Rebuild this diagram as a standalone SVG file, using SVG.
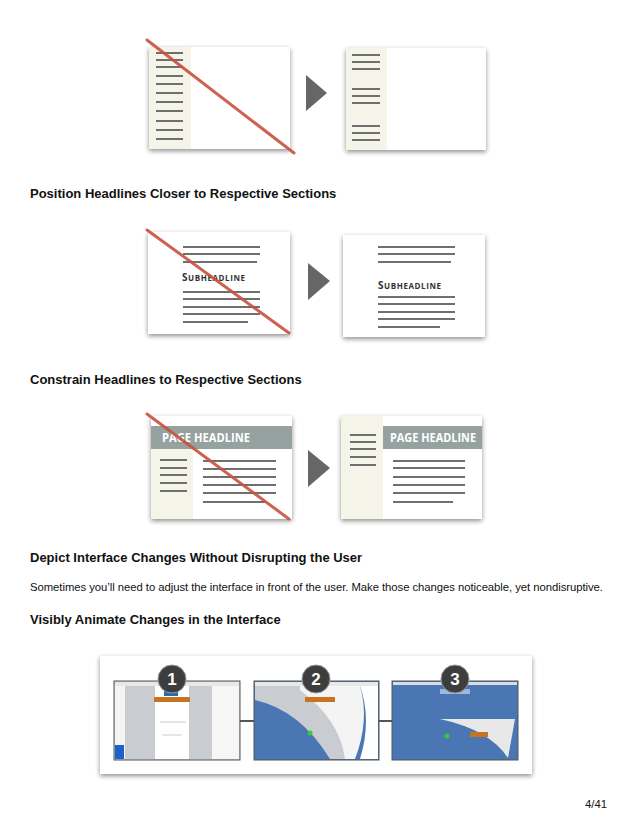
<svg xmlns="http://www.w3.org/2000/svg" width="638" height="826" viewBox="0 0 638 826">
<defs>
<filter id="sh" x="-10%" y="-10%" width="120%" height="125%"><feGaussianBlur in="SourceAlpha" stdDeviation="2.5"/><feOffset dy="1.5"/><feComponentTransfer><feFuncA type="linear" slope="0.45"/></feComponentTransfer><feMerge><feMergeNode/><feMergeNode in="SourceGraphic"/></feMerge></filter>
</defs>
<style>
.card{fill:#fff;filter:url(#sh)}
.side{fill:#f5f4e8}
.ln{stroke:#6f6f6f;stroke-width:2.2}
.red{stroke:#c9513f;stroke-width:3;stroke-linecap:round;opacity:0.9}
.arr{fill:#666}
.h{font-family:"Liberation Sans",Arial,sans-serif;font-weight:bold;font-size:13px;fill:#111}
.b{font-family:"Liberation Sans",Arial,sans-serif;font-size:11.3px;fill:#111}
.sub{font-family:"Open Sans","DejaVu Sans",sans-serif;font-weight:bold;font-size:10px;fill:#333}
.ph{font-family:"Open Sans","DejaVu Sans",sans-serif;font-weight:bold;font-size:11.5px;fill:#fff}
.band{fill:#95a29f}
.num{font-family:"Liberation Sans",Arial,sans-serif;font-weight:bold;font-size:17px;fill:#fff;text-anchor:middle}
.circ{fill:#3d3d3d;stroke:#999;stroke-width:1}
</style>
<rect width="638" height="826" fill="#fff"/>

<g id="fig1">
<rect class="card" x="149" y="47" width="141" height="102"/>
<rect class="side" x="149" y="47" width="42" height="102"/>
<g class="ln"><path d="M156 53H183M156 60H183M156 67H183M156 76H183M156 84H183M156 93H183M156 102H183M156 111H183M156 121H183M156 130H183M156 139H183"/></g>
<line class="red" x1="147" y1="40" x2="294" y2="153"/>
<polygon class="arr" points="306,75 327,93 306,111"/>
<rect class="card" x="346" y="48" width="140" height="102"/>
<rect class="side" x="346" y="48" width="41" height="102"/>
<g class="ln"><path d="M352 55H380M352 62H380M352 69H380M352 89H380M352 96H380M352 103H380M352 126H380M352 133H380M352 140H380"/></g>
</g>

<text class="h" x="30" y="198">Position Headlines Closer to Respective Sections</text>

<g id="fig2">
<rect class="card" x="148" y="232" width="142" height="102"/>
<g class="ln"><path d="M183 247H260M183 254H260M183 262H257M183 292H260M183 299H260M183 307H260M183 314H260M183 322H248"/></g>
<text class="sub" x="182" y="281" textLength="63">S<tspan font-size="8">UBHEADLINE</tspan></text>
<line class="red" x1="147" y1="230" x2="289" y2="333"/>
<polygon class="arr" points="308,263 330,281 308,300"/>
<rect class="card" x="343" y="235" width="142" height="102"/>
<g class="ln"><path d="M378 247H455M378 254H455M378 262H451M378 297H455M378 304H455M378 312H455M378 319H455M378 327H440"/></g>
<text class="sub" x="378" y="289" textLength="63">S<tspan font-size="8">UBHEADLINE</tspan></text>
</g>

<text class="h" x="30" y="384">Constrain Headlines to Respective Sections</text>

<g id="fig3">
<rect class="card" x="151" y="416" width="141" height="103"/>
<rect class="side" x="151" y="449" width="42" height="70"/>
<rect class="band" x="151" y="426" width="141" height="23"/>
<text class="ph" x="162" y="442" textLength="88" lengthAdjust="spacingAndGlyphs">PAGE HEADLINE</text>
<g class="ln"><path d="M160 460H187M160 468H187M160 475H187M160 483H187M160 491H187M203 461H276M203 469H276M203 477H276M203 485H276M203 493H276M203 502H265"/></g>
<line class="red" x1="147" y1="414" x2="289" y2="519"/>
<polygon class="arr" points="308,450 330,468 308,487"/>
<rect class="card" x="341" y="416" width="141" height="103"/>
<rect class="side" x="341" y="416" width="42" height="103"/>
<rect class="band" x="383" y="426" width="99" height="23"/>
<text class="ph" x="390" y="442" textLength="86" lengthAdjust="spacingAndGlyphs">PAGE HEADLINE</text>
<g class="ln"><path d="M350 435H376M350 442H376M350 449H376M350 457H376M350 465H376M393 461H465M393 468H465M393 477H465M393 485H465M393 493H465M393 502H453"/></g>
</g>

<text class="h" x="30" y="562">Depict Interface Changes Without Disrupting the User</text>
<text class="b" x="30" y="591" textLength="573">Sometimes you’ll need to adjust the interface in front of the user. Make those changes noticeable, yet nondisruptive.</text>
<text class="h" x="30" y="624">Visibly Animate Changes in the Interface</text>

<g id="fig4">
<rect class="card" x="100" y="656" width="432" height="118"/>
<g id="connectors" stroke="#555" stroke-width="2"><line x1="240" y1="721" x2="254" y2="721"/><line x1="379" y1="721" x2="392" y2="721"/></g>
<g id="shot1">
<rect x="114" y="681" width="126" height="79" fill="#c9ccd0" stroke="#555"/>
<rect x="115" y="682" width="124" height="4" fill="#e8e8e8"/>
<rect x="115" y="686" width="10" height="73" fill="#f4f4f4"/>
<rect x="115" y="745" width="9" height="14" fill="#1a64c8"/>
<rect x="155" y="686" width="34" height="73" fill="#fff"/>
<rect x="154" y="697" width="36" height="5" fill="#c8731f"/>
<rect x="164" y="690" width="14" height="6" fill="#1d6fb8"/>
<rect x="212" y="686" width="27" height="73" fill="#f6f6f6"/>
<path d="M160 722H186M162 735H182" stroke="#ccc"/>
</g>
<g id="shot2">
<rect x="254" y="681" width="125" height="79" fill="#4a77b4" stroke="#555"/>
<rect x="255" y="682" width="123" height="4" fill="#e8e8e8"/>
<path d="M255 686H300Q330 700 355 759H330Q300 710 255 700Z" fill="#c9ccd0"/>
<path d="M300 686H360Q370 720 355 759H345Q340 720 300 690Z" fill="#f4f4f4"/>
<path d="M360 686H378V759H360Q372 720 360 686Z" fill="#fff"/>
<rect x="305" y="697" width="30" height="5" fill="#c8731f"/>
<circle cx="310" cy="733" r="2.5" fill="#3c3"/>
</g>
<g id="shot3">
<rect x="392" y="681" width="126" height="79" fill="#4a77b4" stroke="#555"/>
<rect x="393" y="682" width="124" height="3" fill="#d8dde6"/>
<rect x="440" y="689" width="30" height="5" fill="#9ab9e0"/>
<path d="M440 719H515L508 758Q490 730 440 719Z" fill="#e8e8e8"/>
<rect x="470" y="732" width="18" height="5" fill="#c8731f"/>
<circle cx="447" cy="736" r="2.5" fill="#3c3"/>
</g>
<circle class="circ" cx="172" cy="679" r="14"/><text class="num" x="172" y="685">1</text>
<circle class="circ" cx="316" cy="679" r="14"/><text class="num" x="316" y="685">2</text>
<circle class="circ" cx="455" cy="679" r="14"/><text class="num" x="455" y="685">3</text>
</g>

<text class="b" x="607" y="808" text-anchor="end" font-size="12">4/41</text>
</svg>
